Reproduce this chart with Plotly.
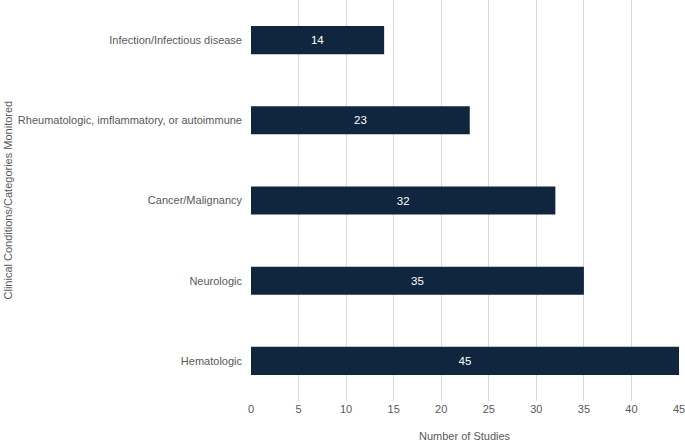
import plotly.graph_objects as go

categories = ["Hematologic", "Neurologic", "Cancer/Malignancy",
              "Rheumatologic, imflammatory, or autoimmune", "Infection/Infectious disease"]
counts = [45, 35, 32, 23, 14]
x_ticks = [0, 5, 10, 15, 20, 25, 30, 35, 40, 45]
x_title = "Number of Studies"
y_title = "Clinical Conditions/Categories Monitored"

font_col = "#595959"
FONT = "Arial, Liberation Sans, sans-serif"
FS = 11
fig = go.Figure(go.Bar(
    y=categories, x=counts, orientation="h",
    marker=dict(color="#10263f", line=dict(width=0)),
    width=0.35,
    text=[str(v) for v in counts], textposition="inside", insidetextanchor="middle",
    textfont=dict(color="white", size=11.5, family=FONT),
))
fig.update_layout(
    width=685, height=441,
    margin=dict(l=251, r=6, t=0, b=40, autoexpand=False),
    plot_bgcolor="white", paper_bgcolor="white",
    font=dict(family=FONT, size=FS, color=font_col),
    showlegend=False,
)
fig.add_annotation(text=x_title, xref="paper", yref="paper", x=0.5, y=0,
                   yshift=-35, yanchor="middle", showarrow=False,
                   font=dict(size=FS, color=font_col, family=FONT))
fig.add_annotation(text=y_title, xref="paper", yref="paper", x=0, y=0.5,
                   xshift=-244, xanchor="center", yanchor="middle", textangle=-90,
                   showarrow=False, font=dict(size=FS, color=font_col, family=FONT))
fig.update_xaxes(range=[0, 45], tickvals=x_ticks, showgrid=True, gridcolor="#d9d9d9",
                 gridwidth=1.2, zeroline=False, showline=False, automargin=False,
                 tickfont=dict(size=FS, color=font_col, family=FONT), ticklabeloverflow="allow")
fig.update_yaxes(categoryorder="array", categoryarray=categories, showgrid=False,
                 ticks="", ticklabelstandoff=8, automargin=False,
                 tickfont=dict(size=FS, color=font_col, family=FONT))
fig.write_html("out.html", config={"displayModeBar": False},
               post_script="document.body.style.margin='0';document.body.style.overflow='hidden';")
